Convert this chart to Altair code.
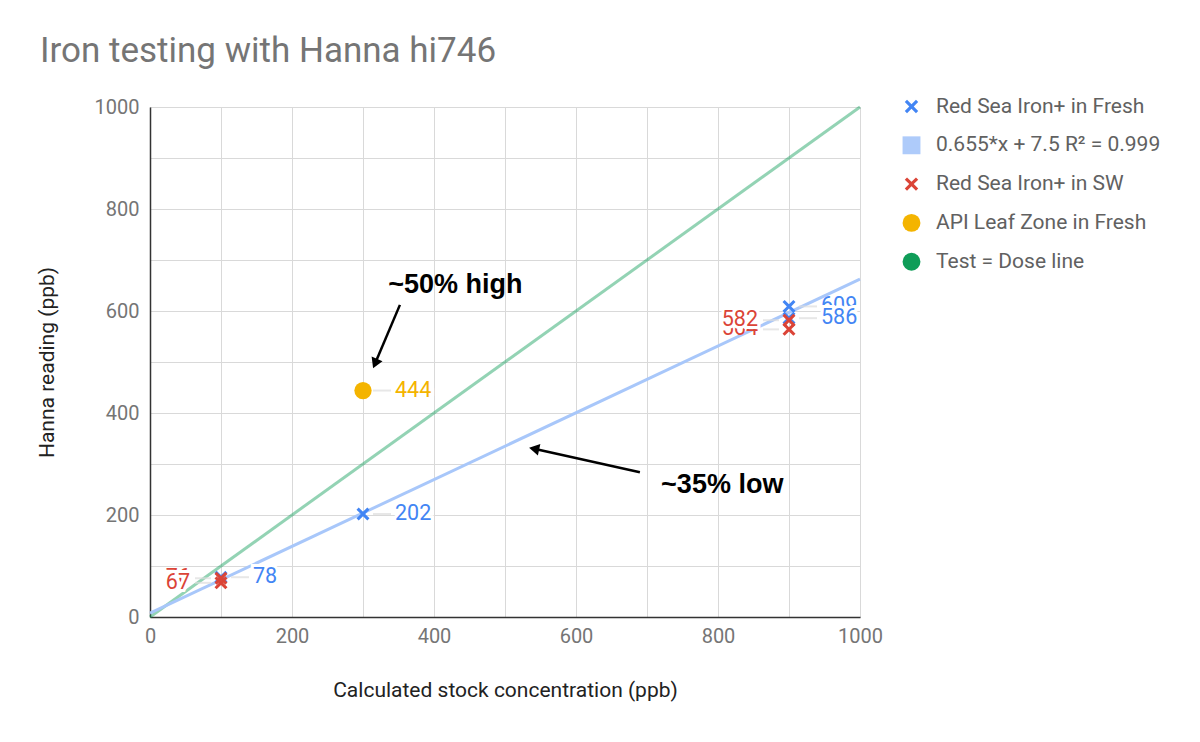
import altair as alt
import pandas as pd

# ---- data ----
fresh_x = [100, 300, 900, 900]
fresh_y = [78, 202, 609, 586]
sw_x = [100, 100, 900, 900]
sw_y = [76, 67, 564, 582]
api_x = [300]
api_y = [444]

trend_x = [0, 1000]
trend_y = [7.5, 662.5]
dose_x = [0, 1000]
dose_y = [0, 1000]

series_names = ["Red Sea Iron+ in Fresh", "0.655*x + 7.5 R\u00b2 = 0.999",
                "Red Sea Iron+ in SW", "API Leaf Zone in Fresh", "Test = Dose line"]
series_colors = ["#4285F4", "#AECBFA", "#DB4437", "#F4B400", "#0F9D58"]

# which labels are hidden behind a later label (draw order)
fresh_back = [False, False, True, False]
sw_back = [True, False, True, False]
api_back = [False]

ann_text = ["~50% high", "~35% low"]
ann_x = [430, 806]
ann_y = [651, 259]
arrow_x = [352, 690]
arrow_y = [612, 284]
arrow_x2 = [317, 541]
arrow_y2 = [497, 330]
arrow_angle = [203, 282]

X_PATH = ("M-0.75,-0.5L-0.5,-0.75L0,-0.25L0.5,-0.75L0.75,-0.5L0.25,0L0.75,0.5"
          "L0.5,0.75L0,0.25L-0.5,0.75L-0.75,0.5L-0.25,0Z")

FONT = "Roboto"

pts = pd.concat([
    pd.DataFrame({"x": fresh_x, "y": fresh_y, "series": series_names[0], "side": "r", "back": fresh_back}),
    pd.DataFrame({"x": sw_x, "y": sw_y, "series": series_names[2], "side": "l", "back": sw_back}),
    pd.DataFrame({"x": api_x, "y": api_y, "series": series_names[3], "side": "r", "back": api_back}),
], ignore_index=True)
pts["label"] = pts["y"].astype(int).astype(str)

trend = pd.DataFrame({"x": trend_x, "y": trend_y})
dose = pd.DataFrame({"x": dose_x, "y": dose_y})
ann = pd.DataFrame({"text": ann_text, "x": ann_x, "y": ann_y})
arrows = pd.DataFrame({"x": arrow_x, "y": arrow_y, "x2": arrow_x2, "y2": arrow_y2, "angle": arrow_angle})

xscale = alt.Scale(domain=[0, 1000], nice=False)
yscale = alt.Scale(domain=[0, 1000], nice=False)
cscale = alt.Scale(domain=series_names, range=series_colors)
sscale = alt.Scale(domain=series_names, range=[X_PATH, "square", X_PATH, "circle", "circle"])

grid_vals = list(range(0, 1001, 100))
lab_expr = "datum.value % 200 == 0 ? format(datum.value, 'd') : ''"

X = alt.X("x:Q", scale=xscale, axis=alt.Axis(
    values=grid_vals, labelExpr=lab_expr, title="Calculated stock concentration (ppb)",
    titleX=355, titleY=73, titleBaseline="middle", labelPadding=9, labelFlush=False))
Y = alt.Y("y:Q", scale=yscale, axis=alt.Axis(
    values=grid_vals, labelExpr=lab_expr, title="Hanna reading (ppb)",
    titleX=-103, titleY=255, titleBaseline="middle", labelPadding=11, labelFlush=False))

base_x = alt.X("x:Q", scale=xscale)
base_y = alt.Y("y:Q", scale=yscale)

dose_line = alt.Chart(dose).mark_line(color="#0F9D58", opacity=0.45, strokeWidth=3).encode(x=X, y=Y)
trend_line = alt.Chart(trend).mark_line(color="#A8C7FA", strokeWidth=3).encode(x=base_x, y=base_y)

leader_r = alt.Chart(pts).transform_filter("datum.side == 'r'").mark_tick(
    color="#DDDDDD", thickness=2, size=18, orient="horizontal", xOffset=19).encode(
    x=base_x, y=base_y)
leader_l = alt.Chart(pts).transform_filter("datum.side == 'l'").mark_tick(
    color="#DDDDDD", thickness=2, size=16, orient="horizontal", xOffset=-18).encode(
    x=base_x, y=base_y)

points = alt.Chart(pts).mark_point(filled=True, opacity=1, size=300).encode(
    x=base_x, y=base_y,
    color=alt.Color("series:N", scale=cscale, sort=series_names, legend=alt.Legend(
        title=None, orient="none", legendX=751, legendY=-11, labelFontSize=21,
        labelColor="#616161", labelFont=FONT, rowPadding=16.8, labelOffset=14, padding=0,
        symbolSize=320, labelLimit=400)),
    shape=alt.Shape("series:N", scale=sscale, sort=series_names, legend=None),
)

def labels(side, back, halo=False):
    align = "left" if side == "r" else "right"
    dx = 32 if side == "r" else -31
    kw = dict(align=align, dx=dx, baseline="middle", fontSize=21.5, font=FONT)
    if halo:
        m = alt.Chart(pts).mark_text(stroke="white", strokeWidth=6, fill="white", **kw)
        enc = dict(x=base_x, y=base_y, text="label:N")
    else:
        m = alt.Chart(pts).mark_text(**kw)
        enc = dict(x=base_x, y=base_y, text="label:N",
                   color=alt.Color("series:N", scale=cscale, legend=None))
    cond = f"datum.side == '{side}' && {'datum.back' if back else '!datum.back'}"
    return m.transform_filter(cond).encode(**enc)

label_layers = []
for side in ["r", "l"]:
    label_layers.append(labels(side, True))
for side in ["r", "l"]:
    label_layers.append(labels(side, False, halo=True))
    label_layers.append(labels(side, False))

arrow_lines = alt.Chart(arrows).mark_rule(color="black", strokeWidth=2.5).encode(
    x=base_x, y=base_y, x2="x2:Q", y2="y2:Q")
arrow_heads = alt.Chart(arrows).mark_point(shape="triangle-up", filled=True, color="black",
                                           opacity=1, size=140).encode(
    x=alt.X("x2:Q", scale=xscale), y=alt.Y("y2:Q", scale=yscale), angle=alt.Angle("angle:Q", scale=None))
ann_text_l = alt.Chart(ann).mark_text(fontSize=27, fontWeight="bold", font="Liberation Sans",
                                      color="black").encode(x=base_x, y=base_y, text="text:N")

chart = alt.layer(
    dose_line, trend_line, leader_r, leader_l, points, *label_layers,
    arrow_lines, arrow_heads, ann_text_l
).properties(
    width=710, height=510,
    background="white",
    autosize=alt.AutoSizeParams(type="none"),
    padding={"left": 142, "top": 99, "right": 330, "bottom": 110},
    title=alt.Title("Iron testing with Hanna hi746", anchor="start", frame="group", dx=-110,
                    offset=-1, baseline="alphabetic", fontSize=35, font=FONT,
                    fontWeight="normal", color="#757575"),
).configure_axis(
    labelFont=FONT, labelFontSize=20, labelColor="#757575", titleFont=FONT,
    titleFontSize=21, titleColor="#222222", titleFontWeight="normal",
    gridColor="#D9D9D9", gridWidth=1, domainColor="#333333", domainWidth=1.5, ticks=False,
).configure_view(stroke="#D9D9D9")

chart.save("out.html", embed_options={"renderer": "svg", "actions": False})
